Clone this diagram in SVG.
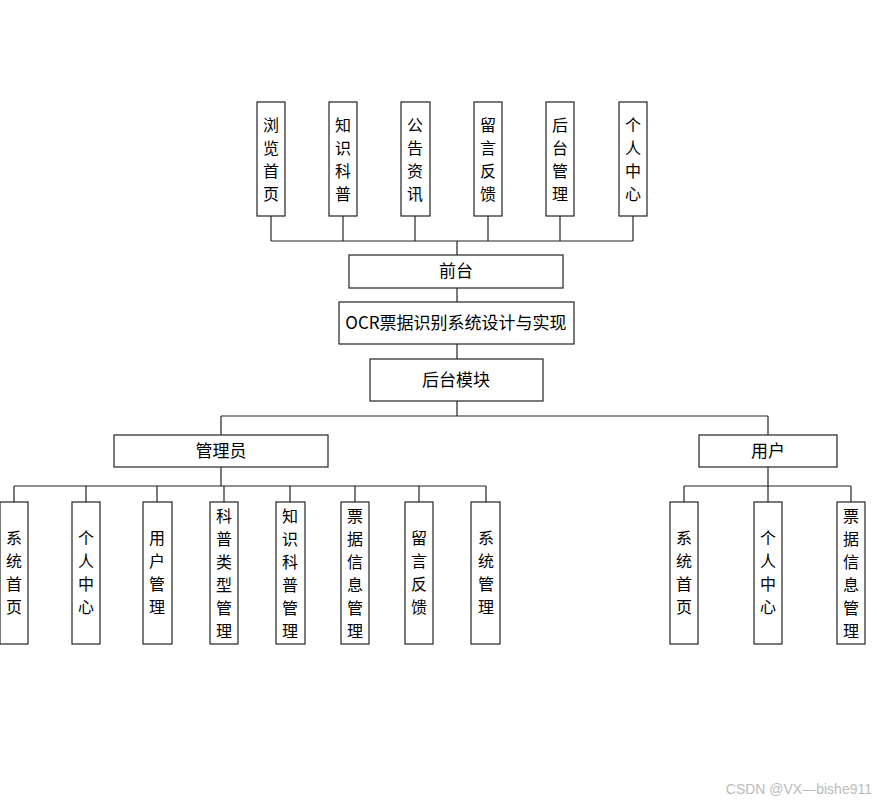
<svg xmlns="http://www.w3.org/2000/svg" width="877" height="803" viewBox="0 0 877 803">
<style>
rect{fill:#fff;stroke:#222;stroke-width:1.2}
text{font-family:"Noto Sans CJK SC","Liberation Sans",sans-serif;font-size:17px;fill:#000;text-anchor:middle}
text.v{font-size:16px}
.c line{stroke:#222;stroke-width:1.2}
.wm{font-size:14px;fill:#bbb;text-anchor:end;font-family:"Liberation Sans",sans-serif}
</style>
<rect x="0" y="0" width="877" height="803" style="fill:#fff;stroke:none"/>
<g class="c">
<line x1="271" y1="216" x2="271" y2="241"/><line x1="343" y1="216" x2="343" y2="241"/><line x1="415" y1="216" x2="415" y2="241"/><line x1="488" y1="216" x2="488" y2="241"/><line x1="560" y1="216" x2="560" y2="241"/><line x1="633" y1="216" x2="633" y2="241"/>
<line x1="271" y1="241" x2="633" y2="241"/>
<line x1="457" y1="241" x2="457" y2="255"/><line x1="457" y1="288" x2="457" y2="302"/><line x1="457" y1="344" x2="457" y2="359"/><line x1="457" y1="401" x2="457" y2="416"/>
<line x1="221" y1="416" x2="768" y2="416"/><line x1="221" y1="416" x2="221" y2="435"/><line x1="768" y1="416" x2="768" y2="435"/>
<line x1="221" y1="467" x2="221" y2="486"/><line x1="14" y1="486" x2="486" y2="486"/>
<line x1="14" y1="486" x2="14" y2="502"/><line x1="86" y1="486" x2="86" y2="502"/><line x1="157" y1="486" x2="157" y2="502"/><line x1="224" y1="486" x2="224" y2="502"/><line x1="290" y1="486" x2="290" y2="502"/><line x1="355" y1="486" x2="355" y2="502"/><line x1="419" y1="486" x2="419" y2="502"/><line x1="486" y1="486" x2="486" y2="502"/>
<line x1="768" y1="467" x2="768" y2="486"/><line x1="684" y1="486" x2="851" y2="486"/>
<line x1="684" y1="486" x2="684" y2="502"/><line x1="768" y1="486" x2="768" y2="502"/><line x1="851" y1="486" x2="851" y2="502"/>
</g>
<g id="t1"><rect x="257" y="102" width="28" height="114"/><text class="v"><tspan x="271" y="131">浏</tspan><tspan x="271" y="154">览</tspan><tspan x="271" y="177">首</tspan><tspan x="271" y="200">页</tspan></text></g>
<g id="t2"><rect x="329" y="102" width="28" height="114"/><text class="v"><tspan x="343" y="131">知</tspan><tspan x="343" y="154">识</tspan><tspan x="343" y="177">科</tspan><tspan x="343" y="200">普</tspan></text></g>
<g id="t3"><rect x="401" y="102" width="29" height="114"/><text class="v"><tspan x="415" y="131">公</tspan><tspan x="415" y="154">告</tspan><tspan x="415" y="177">资</tspan><tspan x="415" y="200">讯</tspan></text></g>
<g id="t4"><rect x="474" y="102" width="28" height="114"/><text class="v"><tspan x="488" y="131">留</tspan><tspan x="488" y="154">言</tspan><tspan x="488" y="177">反</tspan><tspan x="488" y="200">馈</tspan></text></g>
<g id="t5"><rect x="546" y="102" width="28" height="114"/><text class="v"><tspan x="560" y="131">后</tspan><tspan x="560" y="154">台</tspan><tspan x="560" y="177">管</tspan><tspan x="560" y="200">理</tspan></text></g>
<g id="t6"><rect x="619" y="102" width="28" height="114"/><text class="v"><tspan x="633" y="131">个</tspan><tspan x="633" y="154">人</tspan><tspan x="633" y="177">中</tspan><tspan x="633" y="200">心</tspan></text></g>
<g id="qiantai"><rect x="349" y="255" width="214" height="33"/><text x="456" y="277">前台</text></g>
<g id="root"><rect x="339" y="302" width="235" height="42"/><text x="456" y="329">OCR票据识别系统设计与实现</text></g>
<g id="houtai"><rect x="370" y="359" width="173" height="42"/><text x="456" y="386">后台模块</text></g>
<g id="admin"><rect x="114" y="435" width="214" height="32"/><text x="221" y="457">管理员</text></g>
<g id="user"><rect x="699" y="435" width="138" height="32"/><text x="768" y="457">用户</text></g>
<g id="a1"><rect x="0" y="502" width="28" height="142"/><text class="v"><tspan x="14" y="544">系</tspan><tspan x="14" y="567">统</tspan><tspan x="14" y="590">首</tspan><tspan x="14" y="613">页</tspan></text></g>
<g id="a2"><rect x="72" y="502" width="28" height="142"/><text class="v"><tspan x="86" y="544">个</tspan><tspan x="86" y="567">人</tspan><tspan x="86" y="590">中</tspan><tspan x="86" y="613">心</tspan></text></g>
<g id="a3"><rect x="143" y="502" width="29" height="142"/><text class="v"><tspan x="157" y="544">用</tspan><tspan x="157" y="567">户</tspan><tspan x="157" y="590">管</tspan><tspan x="157" y="613">理</tspan></text></g>
<g id="a4"><rect x="210" y="502" width="28" height="142"/><text class="v"><tspan x="224" y="522">科</tspan><tspan x="224" y="545">普</tspan><tspan x="224" y="568">类</tspan><tspan x="224" y="591">型</tspan><tspan x="224" y="614">管</tspan><tspan x="224" y="637">理</tspan></text></g>
<g id="a5"><rect x="276" y="502" width="29" height="142"/><text class="v"><tspan x="290" y="522">知</tspan><tspan x="290" y="545">识</tspan><tspan x="290" y="568">科</tspan><tspan x="290" y="591">普</tspan><tspan x="290" y="614">管</tspan><tspan x="290" y="637">理</tspan></text></g>
<g id="a6"><rect x="341" y="502" width="28" height="142"/><text class="v"><tspan x="355" y="522">票</tspan><tspan x="355" y="545">据</tspan><tspan x="355" y="568">信</tspan><tspan x="355" y="591">息</tspan><tspan x="355" y="614">管</tspan><tspan x="355" y="637">理</tspan></text></g>
<g id="a7"><rect x="405" y="502" width="28" height="142"/><text class="v"><tspan x="419" y="544">留</tspan><tspan x="419" y="567">言</tspan><tspan x="419" y="590">反</tspan><tspan x="419" y="613">馈</tspan></text></g>
<g id="a8"><rect x="471" y="502" width="29" height="142"/><text class="v"><tspan x="486" y="544">系</tspan><tspan x="486" y="567">统</tspan><tspan x="486" y="590">管</tspan><tspan x="486" y="613">理</tspan></text></g>
<g id="u1"><rect x="670" y="502" width="28" height="142"/><text class="v"><tspan x="684" y="544">系</tspan><tspan x="684" y="567">统</tspan><tspan x="684" y="590">首</tspan><tspan x="684" y="613">页</tspan></text></g>
<g id="u2"><rect x="754" y="502" width="28" height="142"/><text class="v"><tspan x="768" y="544">个</tspan><tspan x="768" y="567">人</tspan><tspan x="768" y="590">中</tspan><tspan x="768" y="613">心</tspan></text></g>
<g id="u3"><rect x="837" y="502" width="28" height="142"/><text class="v"><tspan x="851" y="522">票</tspan><tspan x="851" y="545">据</tspan><tspan x="851" y="568">信</tspan><tspan x="851" y="591">息</tspan><tspan x="851" y="614">管</tspan><tspan x="851" y="637">理</tspan></text></g>
<text class="wm" x="872" y="794">CSDN @VX—bishe911</text>
</svg>
